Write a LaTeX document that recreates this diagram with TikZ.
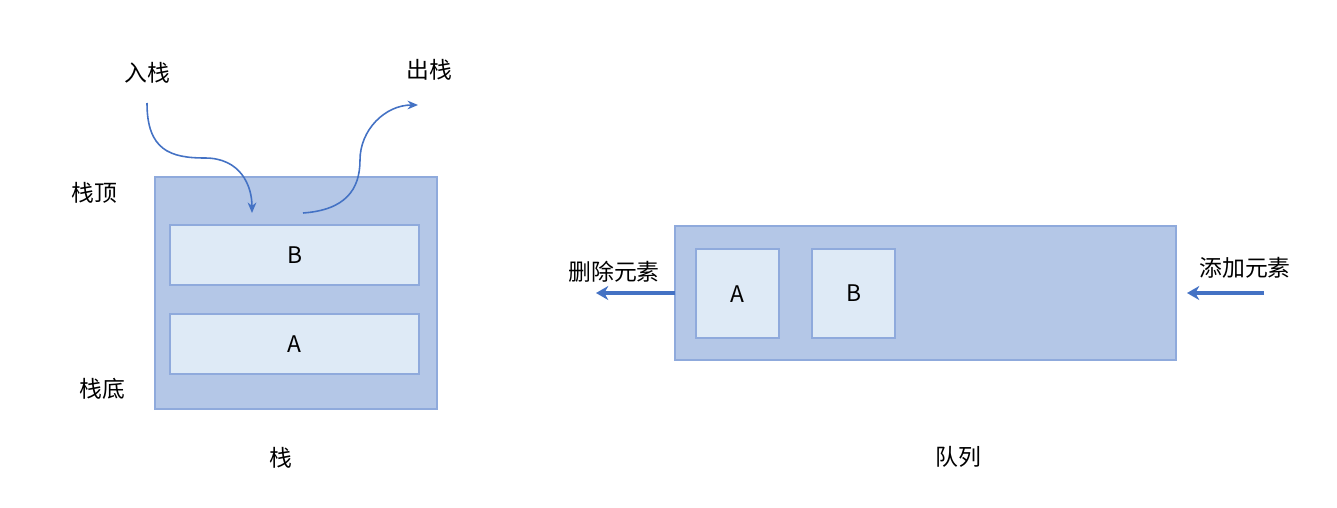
\documentclass[tikz,border=0pt]{standalone}
\usepackage{fontspec}
\setmainfont{Noto Sans CJK SC}
\usetikzlibrary{arrows.meta}
\definecolor{outerfill}{HTML}{B4C7E7}
\definecolor{outerline}{HTML}{8FAADC}
\definecolor{innerfill}{HTML}{DEEAF6}
\definecolor{arrowblue}{HTML}{4472C4}

\begin{document}
\begin{tikzpicture}[x=0.02cm,y=-0.02cm,
  font=\fontsize{13}{15}\selectfont,
  outerbox/.style={draw=outerline,fill=outerfill,line width=0.6pt},
  cellbox/.style={draw=outerline,fill=innerfill,line width=0.6pt},
  thin arrow/.style={draw=arrowblue,line width=0.9pt,-{Stealth[length=6pt,width=5pt]}},
  thick arrow/.style={draw=arrowblue,line width=2.4pt,-{Stealth[length=7pt,width=8pt]}}]
\useasboundingbox (0,0) rectangle (1337,507);
% stack
\draw [outerbox] (155,177) rectangle (437,409);
\draw [cellbox] (170,225) rectangle (419,285);
\draw [cellbox] (170,314) rectangle (419,374);
\node (stB) at (294.5,255) {B};
\node (stA) at (294.5,344) {A};
\node (push) at (147,73) {入栈};
\node (pop) at (429,70) {出栈};
\node (top) at (94,193) {栈顶};
\node (bottom) at (102,389) {栈底};
\node (stack) at (281,458) {栈};
\coordinate (pushstart) at (147,103);
\coordinate (pushend) at (252,213);
\coordinate (popstart) at (303,213);
\coordinate (popend) at (418,105);
\draw [thin arrow] (pushstart) .. controls (147,150) and (170,158) .. (205,158)
  .. controls (240,158) and (252,185) .. (pushend);
\draw [thin arrow] (popstart) .. controls (345,210) and (360,190) .. (360,160)
  .. controls (360,130) and (385,105) .. (popend);
% queue
\draw [outerbox] (675,226) rectangle (1176,360);
\draw [cellbox] (696,249) rectangle (779,338);
\draw [cellbox] (812,249) rectangle (895,338);
\node (qA) at (737.5,294) {A};
\node (qB) at (853.5,293) {B};
\node (del) at (614,272) {删除元素};
\node (add) at (1245,268) {添加元素};
\node (queue) at (958,457) {队列};
\coordinate (delstart) at (675,293);
\coordinate (delend) at (596,293);
\coordinate (addstart) at (1264,293);
\coordinate (addend) at (1187,293);
\draw [thick arrow] (delstart) -- (delend);
\draw [thick arrow] (addstart) -- (addend);
\end{tikzpicture}
\end{document}
